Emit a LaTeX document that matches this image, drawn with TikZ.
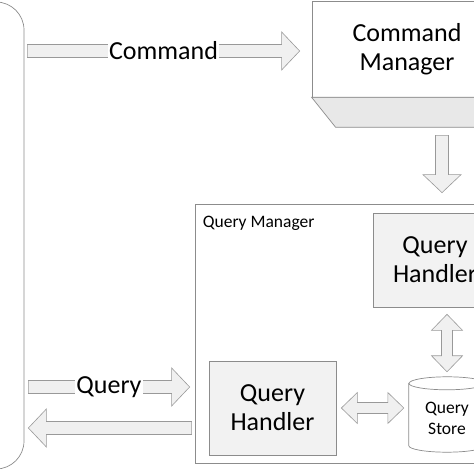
\documentclass[tikz,border=0pt]{standalone}
\usepackage{fontspec}
\setmainfont{Carlito}
\usetikzlibrary{calc,shapes.geometric,positioning}

\tikzset{
  outline/.style={draw=black!45, line width=0.7pt},
  box/.style={outline, fill=black!5, minimum width=124pt, minimum height=94pt, align=center, big},
  blockarrow/.style={draw=black!40, line width=0.6pt, fill=black!6, line join=miter},
  small/.style={font=\fontsize{17.5}{21}\selectfont},
  big/.style={font=\fontsize{26}{29}\selectfont},
}

% block arrow from #1 to #2
\newcommand\sglarrow[2]{%
  \coordinate (hb) at ($(#2)!18pt!(#1)$);
  \draw[blockarrow] ($(#1)!6.5pt!90:(#2)$) -- ($(hb)!6.5pt!-90:(#1)$)
    -- ($(hb)!19pt!-90:(#1)$) -- (#2) -- ($(hb)!19pt!90:(#1)$)
    -- ($(hb)!6.5pt!90:(#1)$) -- ($(#1)!6.5pt!-90:(#2)$) -- cycle;}

% block arrow with a head at both ends
\newcommand\dblarrow[2]{%
  \coordinate (ha) at ($(#1)!16pt!(#2)$);
  \coordinate (hb) at ($(#2)!16pt!(#1)$);
  \draw[blockarrow] (#1) -- ($(ha)!15.5pt!90:(#2)$) -- ($(ha)!5.5pt!90:(#2)$)
    -- ($(hb)!5.5pt!-90:(#1)$) -- ($(hb)!15.5pt!-90:(#1)$) -- (#2)
    -- ($(hb)!15.5pt!90:(#1)$) -- ($(hb)!5.5pt!90:(#1)$)
    -- ($(ha)!5.5pt!-90:(#2)$) -- ($(ha)!15.5pt!-90:(#2)$) -- cycle;}

\begin{document}
\begin{tikzpicture}[x=1pt,y=1pt]
    \useasboundingbox (0,0) rectangle (474,474);
    \clip (0,0) rectangle (474,474);

    % client
    \node[outline, rounded corners=28pt, minimum width=64pt, minimum height=467pt] (client) at (-8,238.5) {};

    % command side
    \node[outline, fill=white, minimum width=190pt, minimum height=96pt, align=center, big] (cmdmgr) at (407,425) {Command\\Manager};
    \draw[outline, fill=black!9] (cmdmgr.south west) -- ++(24,-30) -- ([yshift=-30pt]cmdmgr.south east) -- (cmdmgr.south east) -- cycle;

    % query side
    \node[outline, minimum width=295pt, minimum height=259pt] (qmgr) at (342.5,140.5) {};
    \node[small, anchor=base west, inner sep=0pt] (qmgrlabel) at ([xshift=8pt,yshift=-24pt]qmgr.north west) {Query Manager};
    \node[box] (qhandtop) at (435,214) {Query\\Handler};
    \node[box, minimum width=127pt] (qhand) at (272.5,66) {Query\\Handler};

    % store
    \node[minimum width=76pt, minimum height=75pt] (qstore) at (447,59.5) {};
    \draw[outline, fill=white] ([yshift=-6.5pt]qstore.north west) -- ([yshift=6.5pt]qstore.south west)
        arc[start angle=180, end angle=360, x radius=38, y radius=6.5]
        -- ([yshift=-6.5pt]qstore.north east)
        arc[start angle=0, end angle=180, x radius=38, y radius=6.5] -- cycle;
    \draw[outline] ([yshift=-6.5pt]qstore.north west) arc[start angle=180, end angle=360, x radius=38, y radius=6.5];
    \node[small, align=center] (qstoretext) at ([yshift=-4pt]qstore.center) {Query\\Store};

    % arrows
    \coordinate (cmdfrom) at ([xshift=3pt,yshift=-2pt]client.east |- cmdmgr.west);
    \coordinate (cmdto) at ([xshift=-12pt,yshift=-2pt]cmdmgr.west);
    \sglarrow{cmdfrom}{cmdto}
    \node[big, fill=white, inner sep=1pt] (cmdlabel) at ($(cmdfrom)!0.5!(cmdto)$) {Command};

    \coordinate (dnfrom) at ([xshift=35pt,yshift=-38pt]cmdmgr.south);
    \coordinate (dnto) at ($(dnfrom |- qmgr.north)+(0,11)$);
    \sglarrow{dnfrom}{dnto}

    \coordinate (upa) at ($(qstore.north |- qhandtop.south)+(0,-7)$);
    \coordinate (upb) at ($(qstore.north)+(0,5)$);
    \dblarrow{upa}{upb}

    \coordinate (sidea) at ([xshift=5pt]qhand.east);
    \coordinate (sideb) at ($(qstore.west |- qhand.east)+(-5,0)$);
    \dblarrow{sidea}{sideb}

    \coordinate (qinto) at ([xshift=-19pt,yshift=21pt]qhand.west);
    \coordinate (qinfrom) at ($(client.east |- qinto)+(4,0)$);
    \sglarrow{qinfrom}{qinto}
    \node[big, fill=white, inner sep=1pt] (qlabel) at ($(qinfrom)!0.5!(qinto)$) {Query};

    \coordinate (qoutfrom) at ([xshift=-17pt,yshift=-20pt]qhand.west);
    \coordinate (qoutto) at ($(client.east |- qoutfrom)+(4,0)$);
    \sglarrow{qoutfrom}{qoutto}
\end{tikzpicture}
\end{document}
